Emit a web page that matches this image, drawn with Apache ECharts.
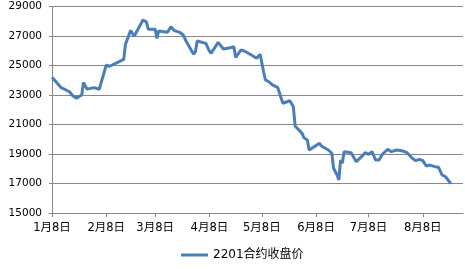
<!DOCTYPE html>
<html><head><meta charset="utf-8">
<script src="https://cdn.jsdelivr.net/npm/echarts@6/dist/echarts.min.js"></script>
<style>html,body{margin:0;padding:0;background:#fff}#c{width:465px;height:269px}</style>
</head><body><div id="c"></div>
<script>
var seriesName = '2201合约收盘价';
var dates = [
 '2021-01-08','2021-01-11','2021-01-13','2021-01-18','2021-01-20','2021-01-22','2021-01-25','2021-01-26','2021-01-28',
 '2021-02-01','2021-02-02','2021-02-04','2021-02-08','2021-02-10','2021-02-18','2021-02-19','2021-02-22','2021-02-24','2021-02-25',
 '2021-03-01','2021-03-03','2021-03-04','2021-03-08','2021-03-09','2021-03-10','2021-03-15','2021-03-17','2021-03-19','2021-03-22',
 '2021-03-24','2021-03-26','2021-03-30','2021-03-31','2021-04-01','2021-04-06','2021-04-08','2021-04-09','2021-04-13','2021-04-16',
 '2021-04-20','2021-04-22','2021-04-23','2021-04-26','2021-04-28','2021-05-02','2021-05-05','2021-05-07','2021-05-09','2021-05-10',
 '2021-05-12','2021-05-14','2021-05-17','2021-05-18','2021-05-20','2021-05-21','2021-05-24','2021-05-26','2021-05-27','2021-05-31',
 '2021-06-01','2021-06-03','2021-06-04','2021-06-07','2021-06-08','2021-06-10','2021-06-11','2021-06-15','2021-06-17','2021-06-18',
 '2021-06-20','2021-06-21','2021-06-22','2021-06-23','2021-06-24','2021-06-25','2021-06-28','2021-07-01','2021-07-04','2021-07-06',
 '2021-07-08','2021-07-10','2021-07-12','2021-07-14','2021-07-16','2021-07-17','2021-07-19','2021-07-21','2021-07-24','2021-07-27',
 '2021-07-30','2021-08-02','2021-08-04','2021-08-06','2021-08-08','2021-08-10','2021-08-12','2021-08-15','2021-08-17','2021-08-19',
 '2021-08-20','2021-08-21','2021-08-24'
];
var closePrices = [
 24200,23790,23520,23220,22930,22780,23000,23850,23400,
 23500,23390,23390,25030,24950,25420,26440,27380,26980,27030,
 28080,27960,27460,27460,26840,27340,27250,27630,27360,27250,
 27070,26570,25760,25940,26660,26500,25980,25830,26570,26120,
 26210,26270,25550,26050,25980,25710,25490,25760,24580,24020,
 23900,23680,23520,23450,22440,22320,22610,22200,20900,20400,
 20110,19950,19270,19500,19390,19730,19540,19270,19050,18030,
 17580,17240,18590,18370,19160,19220,19090,18480,18820,19090,
 18980,19160,18590,18590,19000,19050,19320,19160,19270,19220,
 19090,18710,18550,18640,18550,18190,18250,18140,18100,17580,
 17690,17460,17000
];
var tickDates = ['2021-01-08','2021-02-08','2021-03-08','2021-04-08','2021-05-08','2021-06-08','2021-07-08','2021-08-08'];
var tickLabels = ['1月8日','2月8日','3月8日','4月8日','5月8日','6月8日','7月8日','8月8日'];
var yTicks = [15000,17000,19000,21000,23000,25000,27000,29000];
var startDate = '2021-01-08';
var endDate = '2021-08-31';

function dayNum(s){var p=s.split('-');return Math.round(Date.UTC(+p[0],+p[1]-1,+p[2])/86400000);}
var d0 = dayNum(startDate);
function dayOff(s){return dayNum(s)-d0;}
var tickPos = tickDates.map(dayOff);
var data = dates.map(function(d,i){return [dayOff(d), closePrices[i]];});

var chart = echarts.init(document.getElementById('c'), null, {renderer:'canvas'});
chart.setOption({
  animation:false,
  grid:{left:52,top:6.5,right:2,bottom:56,containLabel:false},
  legend:{
    data:[seriesName], bottom:3, left:176, icon:'rect', itemWidth:27, itemHeight:3, itemGap:4,
    textStyle:{fontFamily:'DejaVu Sans, "Noto Sans CJK SC"', fontSize:12, color:'#000'}
  },
  xAxis:{
    type:'value', min:0, max:dayOff(endDate),
    axisLine:{show:true,onZero:false,lineStyle:{color:'#868686',width:1}},
    axisTick:{show:true,length:4,lineStyle:{color:'#868686'},customValues:tickPos},
    splitLine:{show:false},
    axisLabel:{
      customValues:tickPos, margin:9, color:'#000', fontSize:11.5,
      fontFamily:'DejaVu Sans, "Noto Sans CJK SC"',
      formatter:function(v){var i=tickPos.indexOf(Math.round(v));return i>=0?tickLabels[i]:'';}
    }
  },
  yAxis:{
    type:'value', min:yTicks[0], max:yTicks[yTicks.length-1], interval:2000,
    axisLine:{show:true,lineStyle:{color:'#868686',width:1}},
    axisTick:{show:true,length:3,lineStyle:{color:'#868686'}},
    splitLine:{show:true,lineStyle:{color:'#868686',width:1}},
    axisLabel:{margin:10,color:'#000',fontSize:10.5,fontFamily:'DejaVu Sans',
      formatter:function(v){return String(v);}}
  },
  series:[{
    name:seriesName, type:'line', data:data, showSymbol:false, symbol:'none',
    lineStyle:{color:'#4A7EBB',width:3}, itemStyle:{color:'#4A7EBB'}
  }]
});
</script></body></html>
